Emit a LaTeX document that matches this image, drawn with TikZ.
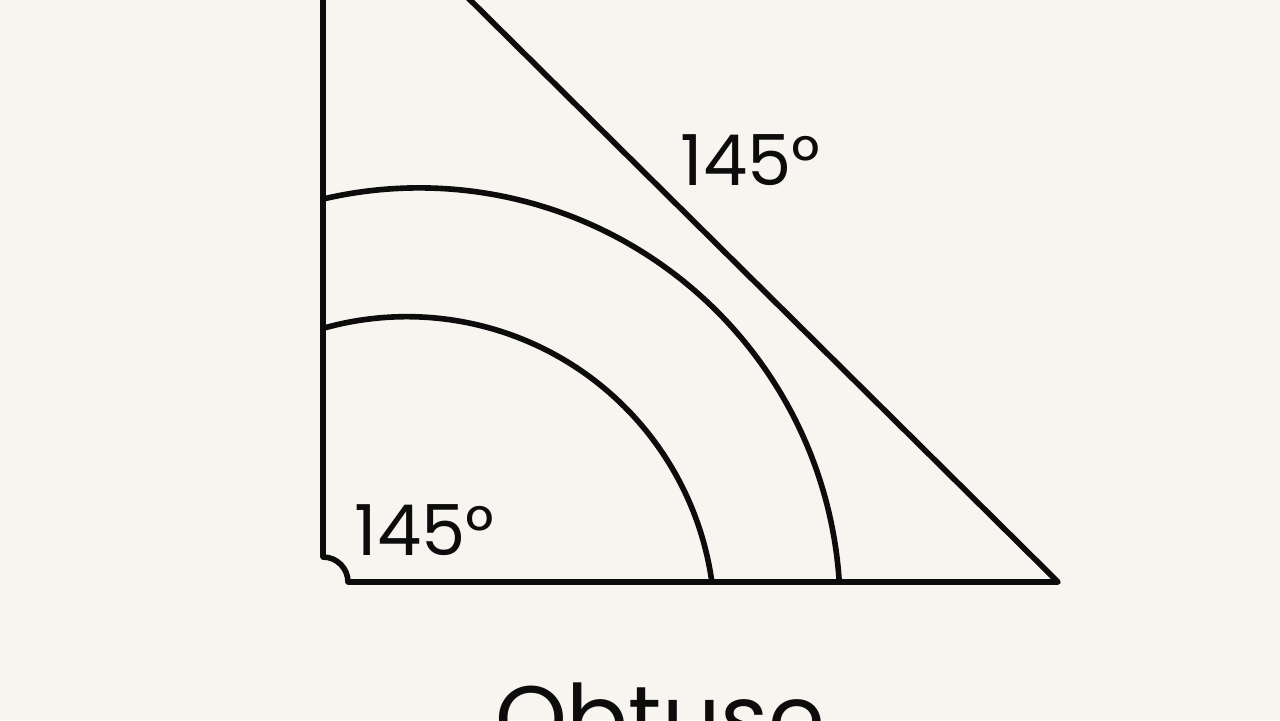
\documentclass[tikz,border=0pt]{standalone}
\usepackage{fontspec}
\setmainfont{Poppins}
\definecolor{paper}{RGB}{248,245,240}
\definecolor{ink}{RGB}{12,12,12}

\begin{document}
\begin{tikzpicture}[x=0.01cm, y=-0.01cm, line width=1.6pt, line join=round, draw=ink]
\fill[paper] (0,0) rectangle (1280,720);
\useasboundingbox (0,0) rectangle (1280,720);
\coordinate (top) at (323,-20);
\coordinate (notch) at (323,557);
\coordinate (tip) at (1058,582);
\coordinate (hyptop) at (450,-20);
\coordinate (outer) at (323,199);
\coordinate (inner) at (324,328);
% triangle with the small corner arc
\draw[ink] (top) -- (notch) arc[start angle=-90, end angle=0, radius=25] -- (tip) -- (hyptop);
% the two angle arcs
\draw[ink] (outer) arc[start angle=-103.2, end angle=-3.7, radius=421];
\draw[ink] (inner) arc[start angle=-105.6, end angle=-8, radius=308];
\node[anchor=base west, inner sep=0pt, text=ink] (lowlabel) at (352,555) {\fontsize{20}{24}\selectfont 145°};
\node[anchor=base west, inner sep=0pt, text=ink] (highlabel) at (678,185) {\fontsize{20}{24}\selectfont 145°};
\node[anchor=base, inner sep=0pt, text=ink] (name) at (660,750) {\fontsize{26}{30}\selectfont Obtuse};
\end{tikzpicture}
\end{document}
